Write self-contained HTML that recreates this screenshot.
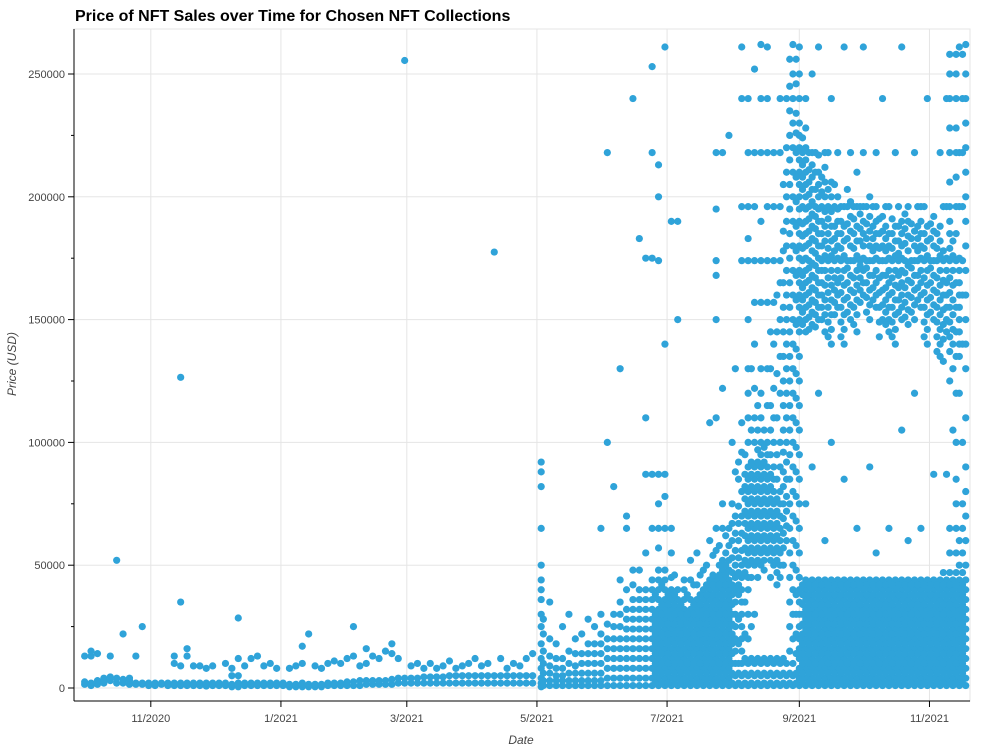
<!DOCTYPE html>
<html><head><meta charset="utf-8">
<style>
html,body{margin:0;padding:0;background:#fff;}
svg{display:block;font-family:"Liberation Sans",sans-serif;}
</style></head>
<body>
<svg id="chart" width="1000" height="750">
<text x="75" y="21" font-size="16" font-weight="bold" fill="#000">Price of NFT Sales over Time for Chosen NFT Collections</text>
<g id="grid"></g>
<g id="points"></g>
<g id="axes"></g>
<text x="0" y="0" transform="translate(16,364) rotate(-90)" text-anchor="middle" font-size="12" font-style="italic" fill="#444">Price (USD)</text>
<text x="521" y="744" text-anchor="middle" font-size="12" font-style="italic" fill="#444">Date</text>
</svg>
<script>
// days are offsets from 2020-11-01, prices in thousands USD
const xTickDays = [0, 61, 120, 181, 242, 304, 365];
const xTickLabels = ["11/2020", "1/2021", "3/2021", "5/2021", "7/2021", "9/2021", "11/2021"];
const yTickValues = [0, 50000, 100000, 150000, 200000, 250000];
const yTickLabels = ["0", "50000", "100000", "150000", "200000", "250000"];
const saleDays = [
-31,-28,-25,-22,-19,-16,-13,-10,-7,-4,-1,2,5,8,11,14,17,20,23,26,29,32,35,38,41,44,47,50,53,56,59,62,65,68,71,74,77,80,83,86,89,92,95,98,101,104,107,110,113,116,119,122,125,128,131,134,137,140,143,146,149,152,155,158,161,164,167,170,173,176,179,
183,184,187,190,193,196,199,202,205,208,211,214,217,220,223,226,229,232,235,238,241,244,247,250,253,256,259,262,265,268,271,274,277,280,283,286,289,292,295,298,301,304,
307,310,313,316,319,322,325,328,331,334,337,340,343,346,349,352,355,358,361,364,367,370,373,376,379,382
];
const salePrices = [
[1.5,2.5,13],[1,2,13,15],[1.5,3,14],[2,4,3],[3,4.5,13],[2,4,52],[2,3.5,22],[1.5,3,4],[1.5,2,13],[1.5,2,25],[1,2],[1,2],[1.5,2],[1,2],[1,2,10,13],[1,2,9,126.5,35],[1,2,13,16],[1,2,9],[1,2,9],[0.8,2,8],[1,2,9],[1,2],[1,2,10],[0.5,1.5,5,8],[0.5,2,5,28.5,12],[1,2,9],[1,2,12],[1,2,13],[1,2,9],[1,2,10],[1,2,8],[1,2],[0.5,1.5,8],[0.5,1.5,9],[0.5,2,10,17],[0.5,1.5,22],[0.5,1.5,9],[0.5,1.5,8],[1,2,10],[1,2,11],[1,2,10],[1,2.5,12],[1,2.5,13,25],[1,3,9],[1.5,3,10,16],[1.5,3,13],[1.5,3,12],[1.5,3,15],[1.5,3.5,14,18],[2,4,12],[2,4,255.5],[2,4,9],[2,4,10],[2,4.5,8],[2,4.5,10],[2,4.5,8],[2,4.5,9],[2,5,11],[2,5,8],[2,5,9],[2,5,10],[2,5,12],[2,5,9],[2,5,10],[2,5,177.5],[2,5,12],[2,5,8],[2,5,10],[2,5,9],[2,5,12],[2,5,14],
[0.5,2,4,8,12,18,25,30,36,40,44,50,65,82,88,92],[1,3,6,10,15,22,28],[1,3,6,9,13,20,35],[1,3,5,8,12,18],[1,3,5,8,12,25],[1,3,6,10,15,30],[1,3,6,9,14,20],[1,3,6,10,14,22],[1,3,6,10,14,18,28],[1,3,6,10,14,18,25],[1,3,6,10,14,18,22,30,65],[1,4,8,12,16,20,26,218,100],[1,4,8,12,16,20,25,30,82],[1,4,8,12,16,20,25,30,35,44,130],[1,4,8,12,16,20,24,28,32,40,65,70],[1,4,8,12,16,20,24,28,32,36,42,48,240],[1,4,8,12,16,20,24,28,32,36,40,48,183],[1,4,8,12,16,20,24,28,32,36,40,55,87,110,175],[1,4,8,12,16,20,24,28,32,36,40,44,65,87,175,218,253],[1,4,8,12,16,20,24,28,32,36,40,44,48,57,65,75,87,200,213,174],[1,4,8,12,16,20,24,28,32,36,40,44,48,65,78,87,140,261],[1,4,8,12,16,20,24,28,32,36,40,45,55,65,190],[1,4,8,12,16,20,24,28,32,36,40,150,190],[1,4,8,12,16,20,24,28,32,36,40,44],[1,4,8,12,16,20,24,28,32,36,44,52],[1,4,8,12,16,20,24,28,32,36,42,55],[1,4,8,12,16,20,24,28,32,36,40,48],[1,4,8,12,16,20,24,28,32,36,40,44,60,108],[1,4,8,12,16,20,24,28,32,36,40,44,56,65,110,150,168,174,195,218],[1,4,8,12,16,20,24,28,32,36,40,44,48,52,65,75,122,218],[1,4,8,12,16,20,24,28,32,36,40,44,48,52,58,65,225],[1,5,10,15,20,25,30,35,40,45,50,56,63,70,88,130],[1,5,10,15,20,25,30,35,40,45,50,56,63,70,80,96,108,174,196,240,261],[1,5,10,20,30,40,45,50,55,60,65,70,75,80,85,90,100,110,120,130,150,174,183,196,218,240],[1,5,10,30,50,55,60,65,70,75,80,85,90,100,110,122,140,157,174,196,218,252],[1,5,10,50,55,60,65,70,75,80,85,90,95,100,110,120,130,157,174,190,218,240,262],[1,5,10,55,60,65,70,75,80,85,90,95,100,115,130,157,174,196,218,240,261],[1,5,10,50,55,60,65,70,75,80,85,90,100,110,122,140,157,174,196,218],[1,5,10,45,50,55,60,65,70,75,80,90,100,120,135,150,165,174,196,218,240],[1,5,10,60,66,72,78,85,92,100,110,120,130,140,150,160,170,180,190,200,210,220,240],[1,5,10,20,30,40,50,60,70,80,90,100,110,120,130,140,150,160,170,180,190,200,210,220,230,240,250,262],[1,4,8,12,16,20,25,30,35,40,45,55,65,75,85,95,105,115,125,135,145,150,155,160,165,170,175,180,185,190,195,200,205,210,215,220,225,230,240,250,261],
[1,4,8,12,16,20,24,28,32,36,40,44,75,145,150,155,160,165,170,175,180,185,190,195,200,205,210,215,220,228,240],[1,4,8,12,16,20,24,28,32,36,40,44,90,148,153,158,163,168,173,178,183,188,193,198,203,208,213,218,250],[1,4,8,12,16,20,24,28,32,36,40,44,120,150,155,160,165,170,175,180,185,190,195,200,205,210,217,261],[1,4,8,12,16,20,24,28,32,36,40,44,60,145,152,158,164,170,176,182,188,194,200,206,212,218],[1,4,8,12,16,20,24,28,32,36,40,44,100,140,146,152,158,164,170,176,182,188,194,200,206,240],[1,4,8,12,16,20,24,28,32,36,40,44,155,160,165,170,175,180,185,190,195,200,218],[1,4,8,12,16,20,24,28,32,36,40,44,85,140,146,152,158,164,170,176,182,188,196,261],[1,4,8,12,16,20,24,28,32,36,40,44,150,156,162,168,174,180,186,192,198,218],[1,4,8,12,16,20,24,28,32,36,40,44,65,145,152,158,164,170,176,182,188,196,210],[1,4,8,12,16,20,24,28,32,36,40,44,160,165,170,175,180,185,190,196,218,261],[1,4,8,12,16,20,24,28,32,36,40,44,90,150,156,162,168,174,180,186,192,200],[1,4,8,12,16,20,24,28,32,36,40,44,55,155,160,165,170,175,180,185,190,196,218],[1,4,8,12,16,20,24,28,32,36,40,44,150,156,162,168,174,180,186,192,240],[1,4,8,12,16,20,24,28,32,36,40,44,65,145,150,155,160,165,170,175,180,185,196],[1,4,8,12,16,20,24,28,32,36,40,44,140,146,152,158,164,170,176,182,188,218],[1,4,8,12,16,20,24,28,32,36,40,44,105,150,155,160,165,170,175,180,185,190,261],[1,4,8,12,16,20,24,28,32,36,40,44,60,148,154,160,166,172,178,184,190,196],[1,4,8,12,16,20,24,28,32,36,40,44,120,150,156,162,168,174,180,186,218],[1,4,8,12,16,20,24,28,32,36,40,44,65,155,160,165,170,175,180,185,190,196],[1,4,8,12,16,20,24,28,32,36,40,44,140,146,152,158,164,170,176,182,188,240],[1,4,8,12,16,20,24,28,32,36,40,44,87,150,156,162,168,174,180,186,192],[1,4,8,12,16,20,24,28,32,36,40,44,135,140,146,152,158,164,170,176,182,188,218],[1,4,8,12,16,20,24,28,32,36,40,44,87,145,150,155,160,165,170,175,196,240],[1,4,8,12,16,20,24,28,32,36,40,44,105,130,140,146,152,158,164,170,176,182],[1,4,8,12,16,20,24,28,32,36,40,44,50,60,120,135,140,145,150,155,160,165,170,175,196,218,261],[1,4,8,12,16,20,24,28,32,36,40,44,50,60,70,80,90,110,130,140,150,160,170,180,190,200,210,220,230,240,250,262]
];
// additional sales filling the dense summer/autumn 2021 clusters
const extraDays = [
236.5,239.5,242.5,245.5,248.5,251.5,254.5,257.5,260.5,263.5,266.5,269.5,272.5,275.5,278.5,281.5,284.5,287.5,290.5,293.5,296.5,299.5,302.5,
305.5,308.5,311.5,314.5,317.5,320.5,323.5,326.5,329.5,332.5,335.5,338.5,341.5,344.5,347.5,350.5,353.5,356.5,359.5,362.5,365.5,368.5,371.5,374.5,377.5,380.5
];
const extraPrices = [
[2,6,10,14,18,22,26,30,38],[2,6,10,14,18,22,26,30,34,42],[2,6,10,14,18,22,26,30,34,38],[2,6,10,14,18,22,26,30,34,38,46],[2,6,10,14,18,22,26,30,34],[2,6,10,14,18,22,26,30,38],[2,6,10,14,18,22,26,30,34,42],[2,6,10,14,18,22,26,30,34,38,46],[2,6,10,14,18,22,26,30,34,38,42,50],[2,6,10,14,18,22,26,30,34,38,42,46,54],[2,6,10,14,18,22,26,30,34,38,42,46,50,58],[2,6,10,14,18,22,26,30,34,38,42,46,50,55,62],[2,6,10,14,18,22,26,30,34,38,42,47,53,60,67,75,100],[2,6,10,18,28,38,42,47,53,60,67,74,85,92],[2,6,12,22,35,47,52,57,62,67,72,77,82,87,95],[2,6,12,25,45,52,57,62,67,72,77,82,87,92,105,130],[2,6,12,45,52,57,62,67,72,77,82,87,92,97,105,115],[2,6,12,48,52,57,62,67,72,77,82,87,92,98,105],[2,6,12,45,52,57,62,67,72,77,82,87,95,105,115,130,145],[2,6,12,42,47,52,57,62,67,72,77,85,95,110,128,145,160],[2,6,12,50,57,63,69,75,82,88,96,105,115,125,135,145,155,165,178,186,205],[2,6,15,25,35,45,55,65,75,85,95,105,115,125,135,145,155,165,175,185,195,205,215,225,235,245,256],[2,6,14,22,30,38,48,58,68,78,88,98,108,118,128,138,148,158,168,178,188,198,208,218,226,234,246,256],
[2,6,10,14,18,22,26,30,34,38,42,148,153,158,163,168,174,179,184,189,196,203,208,213,218,224],[2,6,10,14,18,22,26,30,34,38,42,146,151,156,161,166,171,174,181,186,191,196,201,206,211,218],[2,6,10,14,18,22,26,30,34,38,42,147,152,157,162,167,172,177,182,187,192,196,203,210,218],[2,6,10,14,18,22,26,30,34,38,42,150,155,160,165,170,174,180,185,190,196,202,208],[2,6,10,14,18,22,26,30,34,38,42,143,149,155,161,167,174,179,185,191,196,203,218],[2,6,10,14,18,22,26,30,34,38,42,152,157,162,167,174,178,183,188,196,205],[2,6,10,14,18,22,26,30,34,38,42,143,149,155,161,167,174,179,185,190,196],[2,6,10,14,18,22,26,30,34,38,42,153,159,165,171,174,183,189,196,203],[2,6,10,14,18,22,26,30,34,38,42,148,155,161,167,174,179,185,191,196],[2,6,10,14,18,22,26,30,34,38,42,157,162,167,172,174,182,187,193,196],[2,6,10,14,18,22,26,30,34,38,42,153,159,165,171,174,183,189,196],[2,6,10,14,18,22,26,30,34,38,42,158,163,168,174,178,183,188,196],[2,6,10,14,18,22,26,30,34,38,42,143,149,155,161,167,174,179,185,191],[2,6,10,14,18,22,26,30,34,38,42,148,153,158,163,168,174,178,183,188,196],[2,6,10,14,18,22,26,30,34,38,42,143,149,155,161,167,174,179,185,191],[2,6,10,14,18,22,26,30,34,38,42,153,158,163,168,174,177,182,188,196],[2,6,10,14,18,22,26,30,34,38,42,151,157,163,169,174,181,187,193],[2,6,10,14,18,22,26,30,34,38,42,153,159,165,171,174,183,189],[2,6,10,14,18,22,26,30,34,38,42,158,163,168,174,178,183,188,196],[2,6,10,14,18,22,26,30,34,38,42,143,149,155,161,167,174,179,185,196],[2,6,10,14,18,22,26,30,34,38,42,153,159,165,171,174,183,189],[2,6,10,14,18,22,26,30,34,38,42,137,143,149,155,161,167,174,179,185],[2,6,10,14,18,22,26,30,34,38,42,47,133,142,148,154,160,166,174,178,196],[2,6,10,14,18,22,26,30,34,38,42,47,55,65,125,137,143,149,155,161,167,174,179,185,190,196,206,218,228,240,250,258],[2,6,10,14,18,22,26,30,34,38,42,47,55,65,75,85,100,120,135,145,155,165,174,185,196,208,218,228,240,250,258],[2,6,10,14,18,22,26,30,34,38,42,47,55,65,75,100,140,160,174,196,218,240,258]
];
const NS = "http://www.w3.org/2000/svg";
const L = 74, R = 970, T = 29, B = 701;
function xScale(d){ return L + (d + 36) / 420 * (R - L); }
function yScale(v){ return 688 - v * 0.002456; }
const grid = document.getElementById("grid");
const axes = document.getElementById("axes");
const pts = document.getElementById("points");
function mk(tag, attrs, parent){ const e = document.createElementNS(NS, tag); for (const k in attrs) e.setAttribute(k, attrs[k]); parent.appendChild(e); return e; }
const frame = mk("rect", {x:L, y:T, width:R-L, height:B-T, fill:"none", stroke:"#e5e5e5"}, grid);


xTickDays.forEach((d, i) => {
  const x = xScale(d);
  const gl = mk("line", {x1:x, x2:x, y1:T, y2:B, stroke:"#e5e5e5"}, grid);
  
  
  mk("line", {x1:x, x2:x, y1:B, y2:B+6, stroke:"#000"}, axes);
  const t = mk("text", {x:x, y:B+21, "text-anchor":"middle", "font-size":"11", fill:"#444"}, axes);
  t.textContent = xTickLabels[i];
  
  
});
yTickValues.forEach((v, i) => {
  const y = yScale(v);
  const gl = mk("line", {x1:L, x2:R, y1:y, y2:y, stroke:"#e5e5e5"}, grid);
  
  
  mk("line", {x1:L-6, x2:L, y1:y, y2:y, stroke:"#000"}, axes);
  const t = mk("text", {x:L-9, y:y+4, "text-anchor":"end", "font-size":"11", fill:"#444"}, axes);
  t.textContent = yTickLabels[i];
  
  
  const ym = yScale(v + 25000);
  if (ym > T) mk("line", {x1:L-3, x2:L, y1:ym, y2:ym, stroke:"#000"}, axes);
});
mk("line", {x1:L, x2:L, y1:T, y2:B, stroke:"#000"}, axes);
mk("line", {x1:L, x2:R, y1:B, y2:B, stroke:"#000"}, axes);
function drawSet(days, prices){
  days.forEach((d, i) => {
    const list = prices[i] || [];
    list.forEach(p => {
      const c = mk("circle", {cx:xScale(d), cy:yScale(p*1000), r:3.6, fill:"#2fa3d9"}, pts);
      
      
    });
  });
}
drawSet(saleDays, salePrices);
drawSet(extraDays, extraPrices);
</script>
</body></html>
